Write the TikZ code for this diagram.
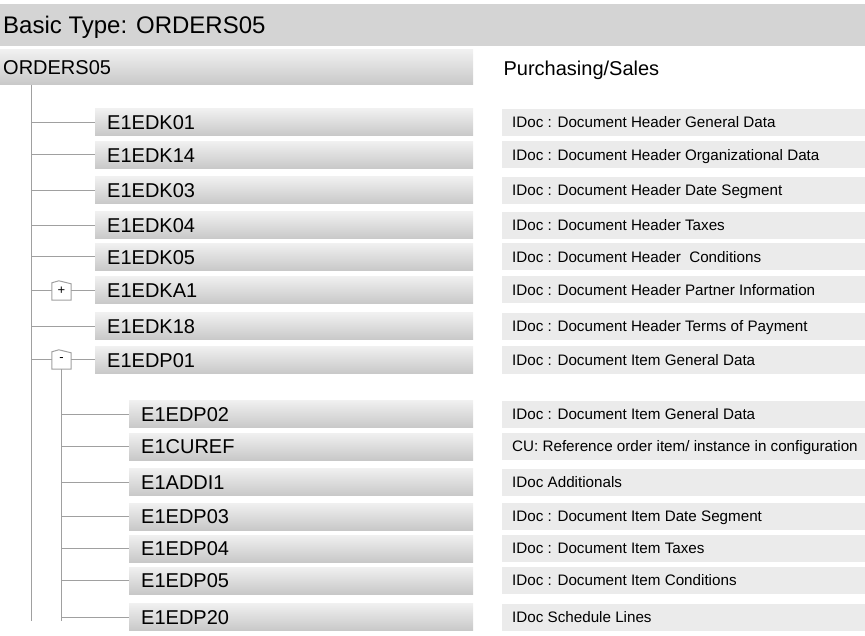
\documentclass[tikz,border=0pt]{standalone}
\usepackage{fontspec}
\setmainfont{Liberation Sans}
\usepackage{xcolor}
\usepackage{tikz}
\usetikzlibrary{calc}
\usetikzlibrary{positioning}

\definecolor{bannergray}{HTML}{D4D4D4}
\definecolor{segtop}{HTML}{F0F0F0}
\definecolor{segbot}{HTML}{C8C8C8}
\definecolor{descgray}{HTML}{EBEBEB}
\definecolor{treegray}{HTML}{A0A0A0}

\begin{document}
\begin{tikzpicture}[x=1pt, y=-1pt,
    tree/.style={draw=treegray, line width=1pt},
    seg/.style={anchor=west, top color=segtop, bottom color=segbot,
      minimum height=27pt, inner xsep=12pt, text height=14.4pt,
      text depth=0pt, font=\fontsize{20}{24}\selectfont},
    desc/.style={anchor=west, fill=descgray, minimum height=27pt,
      inner xsep=10pt, text height=10.9pt, text depth=0pt,
      font=\fontsize{15.2}{18}\selectfont},
    folder/.style={minimum width=19pt, minimum height=19pt, inner sep=0pt,
      font=\fontsize{13}{14}\selectfont}]

    \useasboundingbox (0, 0) rectangle (865, 636);

    \node [anchor=west, fill=bannergray, minimum width=865pt,
      minimum height=42pt, inner xsep=3pt, text height=17.3pt, text depth=0pt,
      font=\fontsize{24}{28}\selectfont] (title) at (0, 25)
      {\makebox[859pt][l]{Basic Type: ORDERS05}}; % banner
    \node [seg, minimum height=35pt, inner xsep=3pt] (root) at (0, 67.5)
      {\makebox[467pt][l]{ORDERS05}};
    \node [right=30pt of root, yshift=-3pt, inner sep=0pt,
      font=\fontsize{20}{24}\selectfont] (area) {Purchasing/Sales};

    % level 1 segments and descriptions
    \foreach \n/\y/\s/\d in {
      k01/122.5/E1EDK01/{IDoc : Document Header General Data},
      k14/155/E1EDK14/{IDoc : Document Header Organizational Data},
      k03/190.5/E1EDK03/{IDoc : Document Header Date Segment},
      k04/225.5/E1EDK04/{IDoc : Document Header Taxes},
      k05/257/E1EDK05/{IDoc : Document Header \ Conditions},
      ka1/290/E1EDKA1/{IDoc : Document Header Partner Information},
      k18/326.5/E1EDK18/{IDoc : Document Header Terms of Payment},
      p01/360/E1EDP01/{IDoc : Document Item General Data}} {
      \node [seg] (\n) at (95, \y) {\makebox[354pt][l]{\s}};
      \node [desc] (\n-d) at (502, \y) {\makebox[343pt][l]{\d}};
    }
    % level 2 segments and descriptions
    \foreach \n/\y/\s/\d in {
      p02/414/E1EDP02/{IDoc : Document Item General Data},
      curef/446.5/E1CUREF/{CU: Reference order item/ instance in configuration},
      addi1/482/E1ADDI1/{IDoc Additionals},
      p03/516.5/E1EDP03/{IDoc : Document Item Date Segment},
      p04/548.5/E1EDP04/{IDoc : Document Item Taxes},
      p05/580.5/E1EDP05/{IDoc : Document Item Conditions},
      p20/617/E1EDP20/{IDoc Schedule Lines}} {
      \node [seg] (\n) at (129, \y) {\makebox[320pt][l]{\s}};
      \node [desc] (\n-d) at (502, \y) {\makebox[343pt][l]{\d}};
    }

    % folder toggles
    \node [folder] (fa) at (61.5, 290.5) {+};
    \node [folder] (fp) at (61.5, 359.5) {-};
    \foreach \f in {fa, fp} {
      \draw [tree] (\f.south west) -- ($(\f.north west) + (0, 2)$)
      -- ($(\f.north west) + (7, 0)$) -- ($(\f.north east) + (0, 3)$)
      -- (\f.south east) -- cycle;
    }

    \coordinate (t0) at (31, 85);
    \coordinate (t1) at (31, 621);
    \coordinate (u1) at (61.5, 621);
    \draw [tree] (t0) -- (t1); % trunk
    \foreach \n in {k01, k14, k03, k04, k05, k18} {
      \draw [tree] (t0 |- \n.west) -- (\n.west);
    }
    \draw [tree] (t0 |- fa.west) -- (fa.west);
    \draw [tree] (fa.east) -- (fa.east -| ka1.west);
    \draw [tree] (t0 |- fp.west) -- (fp.west);
    \draw [tree] (fp.east) -- (fp.east -| p01.west);
    \draw [tree] (fp.south) -- (u1); % item branch
    \foreach \n in {p02, curef, addi1, p03, p04, p05, p20} {
      \draw [tree] (fp.south |- \n.west) -- (\n.west);
    }

\end{tikzpicture}
\end{document}
